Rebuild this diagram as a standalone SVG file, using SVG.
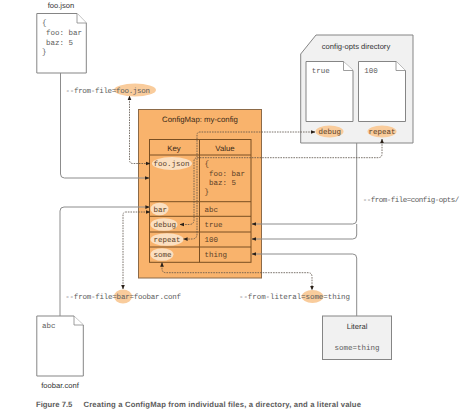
<svg xmlns="http://www.w3.org/2000/svg" width="474" height="414" viewBox="0 0 474 414" text-rendering="geometricPrecision">
<style>
.m{font-family:"Liberation Mono",monospace;font-size:7.5px;fill:#5c5c5c}
.mk{font-family:"Liberation Mono",monospace;font-size:7.5px;fill:#5a4028}
.s{font-family:"Liberation Sans",Arial,sans-serif;font-size:7.6px;fill:#333}
.sk{font-family:"Liberation Sans",Arial,sans-serif;font-size:7.8px;fill:#3a2a18}
.c{text-anchor:middle}
.doc{fill:#fff;stroke:#858585;stroke-width:1}
.fold{fill:#fff;stroke:#858585;stroke-width:.8}
.gray{fill:#f1f1f1;stroke:#858585;stroke-width:1}
.hl{fill:#f9cc9c}
.hk{fill:#fbdfc0}
.cell{fill:none;stroke:#7a4f22;stroke-width:1}
.ln{fill:none;stroke:#8c8c8c;stroke-width:1}
.da{fill:none;stroke:#5a5147;stroke-width:.8;stroke-dasharray:1.6 1}
.cap{font-family:"Liberation Sans",Arial,sans-serif;font-size:7.7px;font-weight:bold;fill:#5c5c5c}
</style>
<defs>
<marker id="a" viewBox="0 0 6 6" refX="5.5" refY="3" markerWidth="4.5" markerHeight="4.5" markerUnits="userSpaceOnUse" orient="auto-start-reverse"><path d="M0 .5L6 3L0 5.5Z" fill="#2a2018"/></marker>
</defs>
<g id="configmap">
<rect x="138.5" y="109.5" width="123" height="168.5" fill="#f9b36c" stroke="#8c6a48" stroke-width="1"/>
<text class="sk c" x="200" y="122">ConfigMap: my-config</text>
</g>
<g id="table">
<rect class="cell" x="149.5" y="139.5" width="101.5" height="122.8"/>
<path class="cell" d="M199.5 139.5V262.3M149.5 155H251M149.5 201.7H251M149.5 216.3H251M149.5 232H251M149.5 247H251"/>
<text class="sk c" x="174" y="150.5">Key</text>
<text class="sk c" x="225" y="150.5">Value</text>
<ellipse class="hk" cx="172" cy="163.5" rx="20" ry="6.5"/>
<ellipse class="hk" cx="159.5" cy="209" rx="9" ry="6.3"/>
<ellipse class="hk" cx="164" cy="224.5" rx="13.5" ry="6.3"/>
<ellipse class="hk" cx="167" cy="239.5" rx="16.5" ry="6.3"/>
<ellipse class="hk" cx="162" cy="254.5" rx="11.5" ry="6.3"/>
<text class="mk" x="153.5" y="166">foo.json</text>
<text class="mk" x="153.5" y="211.5">bar</text>
<text class="mk" x="153.5" y="227">debug</text>
<text class="mk" x="153.5" y="242">repeat</text>
<text class="mk" x="153.5" y="257">some</text>
<text class="mk" x="204.5" y="166">{</text>
<text class="mk" x="209" y="175.5">foo: bar</text>
<text class="mk" x="209" y="184.5">baz: 5</text>
<text class="mk" x="204.5" y="194">}</text>
<text class="mk" x="204.5" y="211.5">abc</text>
<text class="mk" x="204.5" y="227">true</text>
<text class="mk" x="204.5" y="242">100</text>
<text class="mk" x="204.5" y="257">thing</text>
</g>
<g id="foo-json">
<path class="doc" d="M36.8 13.5H77L86.3 23V73H36.8Z"/>
<path class="fold" d="M77 13.5V23H86.3"/>
<text class="s c" x="61" y="8">foo.json</text>
<text class="m" x="42" y="25">{</text>
<text class="m" x="46" y="35">foo: bar</text>
<text class="m" x="46" y="44.5">baz: 5</text>
<text class="m" x="42" y="54">}</text>
</g>
<g id="config-opts">
<path class="gray" d="M316 35H413V143H300.7V54Z"/>
<text class="s c" x="356" y="48.5">config-opts directory</text>
<path class="doc" d="M306 61.5H343.5L353 70.5V121.5H306Z"/>
<path class="fold" d="M343.5 61.5V70.5H353"/>
<path class="doc" d="M358.5 61.5H396L405.5 70.5V121.5H358.5Z"/>
<path class="fold" d="M396 61.5V70.5H405.5"/>
<text class="m" x="311.7" y="73">true</text>
<text class="m" x="364.3" y="73">100</text>
<ellipse class="hl" cx="329.5" cy="131.5" rx="14" ry="6"/>
<ellipse class="hl" cx="382" cy="131.5" rx="14.5" ry="6"/>
<text class="mk" x="318.5" y="134">debug</text>
<text class="mk" x="368.5" y="134">repeat</text>
</g>
<g id="foobar-conf">
<path class="doc" d="M36.8 316H74L83.3 325V376H36.8Z"/>
<path class="fold" d="M74 316V325H83.3"/>
<text class="m" x="42" y="328">abc</text>
<text class="s c" x="60" y="388">foobar.conf</text>
</g>
<g id="literal">
<rect class="gray" x="322.5" y="316" width="69" height="43.5"/>
<text class="s c" x="357" y="329">Literal</text>
<text class="m c" x="357" y="349.5">some=thing</text>
</g>
<g id="connectors">
<path class="ln" marker-end="url(#a)" d="M60.5 73V174Q60.5 178 64.5 178H149"/>
<path class="ln" marker-end="url(#a)" d="M60 316V211Q60 207 64 207H149.5"/>
<path class="ln" marker-end="url(#a)" d="M356.7 143V220Q356.7 224 352.7 224H252"/>
<path class="ln" marker-end="url(#a)" d="M356.7 224V235Q356.7 239 352.7 239H252"/>
<path class="ln" marker-end="url(#a)" d="M356.7 316V258Q356.7 254 352.7 254H252"/>
<path class="da" marker-start="url(#a)" marker-end="url(#a)" d="M129.5 96V160Q129.5 163.5 133 163.5H150"/>
<path class="da" marker-start="url(#a)" marker-end="url(#a)" d="M123 289V215Q123 212 126 212H150"/>
<path class="da" marker-start="url(#a)" marker-end="url(#a)" d="M315 132H200Q197 132 197 135V234Q197 239 192 239H183.5"/>
<path class="da" marker-start="url(#a)" marker-end="url(#a)" d="M382 139V153.7Q382 157.7 378 157.7H198Q194 157.7 194 161V220Q194 224.5 189 224.5H180"/>
<path class="da" marker-start="url(#a)" marker-end="url(#a)" d="M162 262.5V268.7Q162 272.7 166 272.7H308Q312 272.7 312 276.7V290"/>
</g>
<g id="labels">
<ellipse class="hl" cx="135" cy="90" rx="21" ry="6.5"/>
<ellipse class="hl" cx="123" cy="296.5" rx="9" ry="7"/>
<ellipse class="hl" cx="312.5" cy="296.5" rx="11" ry="6.5"/>
<text class="m" x="65.5" y="92.5" textLength="84.5">--from-file=foo.json</text>
<text class="m" x="65.3" y="299" textLength="115.7">--from-file=bar=foobar.conf</text>
<text class="m" x="239" y="299" textLength="111">--from-literal=some=thing</text>
<text class="m" x="362.7" y="201.5" textLength="96.6">--from-file=config-opts/</text>
</g>
<text class="cap" x="36" y="407">Figure 7.5</text>
<text class="cap" x="83.5" y="407" textLength="277.5">Creating a ConfigMap from individual files, a directory, and a literal value</text>
</svg>
